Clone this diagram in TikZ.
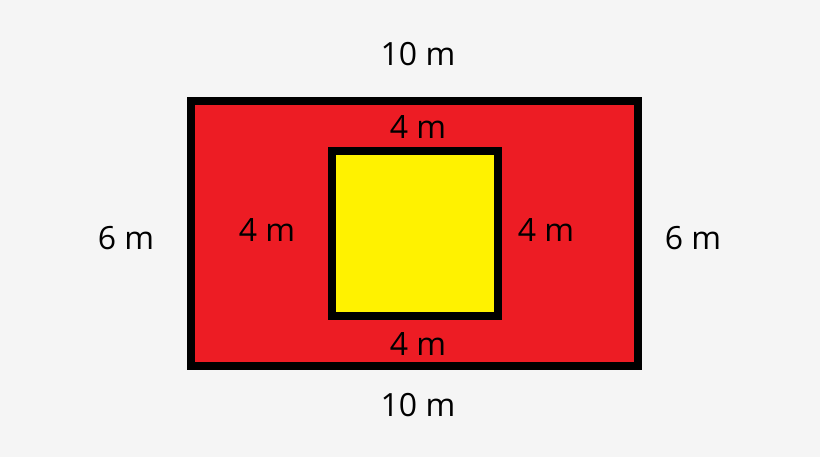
\documentclass[tikz,border=0pt]{standalone}
\usepackage{fontspec}
\setmainfont{Open Sans}
\definecolor{bgc}{HTML}{F5F5F5}
\definecolor{redc}{HTML}{ED1C24}
\definecolor{yelc}{HTML}{FFF200}
\begin{document}
\begin{tikzpicture}[x=1pt,y=-1pt,
  lbl/.style={font=\fontsize{32}{36}\selectfont, inner sep=0pt, text=black},
  box/.style={draw=black, line width=8pt, miter limit=10}]
\fill[bgc] (0,0) rectangle (820,457);
\useasboundingbox (0,0) rectangle (820,457);
\path[box, fill=redc] (191,101) rectangle (638,365.5) coordinate (outer);
\path[box, fill=yelc] (332,151) rectangle (498,316) coordinate (inner);
\node[lbl] (top10) at (418,54) {10 m};
\node[lbl] (bot10) at (418,405) {10 m};
\node[lbl] (l6) at (126,238) {6 m};
\node[lbl] (r6) at (693,238) {6 m};
\node[lbl] (t4) at (418,127) {4 m};
\node[lbl] (b4) at (418,344) {4 m};
\node[lbl] (l4) at (267,230) {4 m};
\node[lbl] (r4) at (546,230) {4 m};
\end{tikzpicture}
\end{document}
